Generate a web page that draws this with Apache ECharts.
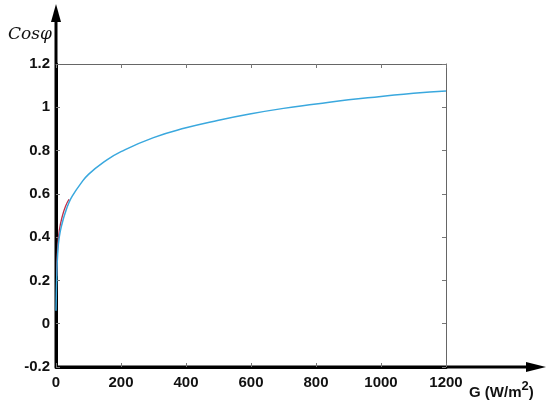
<!DOCTYPE html>
<html>
<head>
    <meta charset="UTF-8">
    <title>Cosφ - G</title>
    <script src="https://cdn.jsdelivr.net/npm/echarts@6/dist/echarts.min.js"></script>
    <style>
        body { margin: 0; background: #fff; }
        #chart { width: 550px; height: 409px; }
    </style>
</head>
<body>
    <div id="chart"></div>
    <script>
    // irradiance G (W/m2) and power factor
    const gMain = [0, 1, 2, 5, 10, 20, 30, 40, 50, 75, 100, 150, 200, 300, 400, 500, 600, 700, 800, 900, 1000, 1100, 1200];
    const cosMain = [0.06, 0.14, 0.2, 0.32, 0.4, 0.47, 0.52, 0.56, 0.59, 0.645, 0.69, 0.75, 0.795, 0.86, 0.905, 0.94, 0.97, 0.995, 1.015, 1.035, 1.05, 1.065, 1.075];
    // short red trace near the origin
    const gRed = [2, 5, 10, 20, 30, 40];
    const cosRed = [0.22, 0.35, 0.43, 0.5, 0.545, 0.575];

    const xTicks = [0, 200, 400, 600, 800, 1000, 1200];
    const yTicks = [-0.2, 0, 0.2, 0.4, 0.6, 0.8, 1, 1.2];

    const chart = echarts.init(document.getElementById('chart'));
    const labelFont = { fontFamily: 'Liberation Sans', fontWeight: 'bold', fontSize: 15, color: '#111' };

    chart.setOption({
        animation: false,
        grid: { left: 56, right: 104, top: 64, bottom: 42 },
        xAxis: [{
            type: 'value', min: xTicks[0], max: xTicks[xTicks.length - 1], interval: 200,
            axisLine: { onZero: false, lineStyle: { color: '#000', width: 3 } },
            axisTick: { inside: true, length: 4, lineStyle: { color: '#777' } },
            axisLabel: Object.assign({ margin: 8, formatter: v => String(v) }, labelFont),
            splitLine: { show: false }
        }, {
            type: 'value', position: 'top', min: 0, max: 1200, interval: 200,
            axisLine: { show: true, onZero: false, lineStyle: { color: '#666', width: 1 } },
            axisTick: { show: true, inside: true, length: 4, lineStyle: { color: '#777' } },
            axisLabel: { show: false }, splitLine: { show: false }
        }],
        yAxis: [{
            type: 'value', min: yTicks[0], max: yTicks[yTicks.length - 1], interval: 0.2,
            axisLine: { onZero: false, lineStyle: { color: '#000', width: 3 } },
            axisTick: { inside: true, length: 4, lineStyle: { color: '#777' } },
            axisLabel: Object.assign({ margin: 6, formatter: v => String(+v.toFixed(1)) }, labelFont),
            splitLine: { show: false }
        }, {
            type: 'value', position: 'right', min: -0.2, max: 1.2, interval: 0.2,
            axisLine: { show: true, onZero: false, lineStyle: { color: '#666', width: 1 } },
            axisTick: { show: true, inside: true, length: 4, lineStyle: { color: '#777' } },
            axisLabel: { show: false }, splitLine: { show: false }
        }],
        series: [{
            type: 'line', showSymbol: false, smooth: true,
            data: gRed.map((g, i) => [g, cosRed[i]]),
            lineStyle: { color: '#c0304a', width: 1.3 }
        }, {
            type: 'line', showSymbol: false, smooth: true,
            data: gMain.map((g, i) => [g, cosMain[i]]),
            lineStyle: { color: '#3aa8de', width: 1.5 }
        }]
    });

    // axis arrows extending past the plot box, plus axis titles
    const o = chart.convertToPixel({ gridIndex: 0 }, [0, -0.2]);
    const ax = o[0], ay = o[1];
    chart.setOption({
        graphic: [
            { type: 'line', shape: { x1: ax, y1: ay, x2: ax, y2: 14 }, style: { stroke: '#000', lineWidth: 3 } },
            { type: 'polygon', shape: { points: [[ax - 5, 22], [ax + 5, 22], [ax, 4]] }, style: { fill: '#000' } },
            { type: 'line', shape: { x1: ax, y1: ay, x2: 536, y2: ay }, style: { stroke: '#000', lineWidth: 3 } },
            { type: 'polygon', shape: { points: [[526, ay - 5], [526, ay + 5], [546, ay]] }, style: { fill: '#000' } },
            { type: 'text', left: 8, top: 26, style: { text: 'Cosφ', font: 'italic 17px "DejaVu Serif"', fill: '#111' } },
            {
                type: 'text', left: 469, top: 380,
                style: {
                    text: '{a|G (W/m}{s|2}{a|)}',
                    rich: {
                        a: { fontFamily: 'Liberation Sans', fontWeight: 'bold', fontSize: 15, fill: '#111', verticalAlign: 'bottom', lineHeight: 20 },
                        s: { fontFamily: 'Liberation Sans', fontWeight: 'bold', fontSize: 13, fill: '#111', verticalAlign: 'top', lineHeight: 20, padding: [0, 0, 8, 0] }
                    }
                }
            }
        ]
    });
    </script>
</body>
</html>
